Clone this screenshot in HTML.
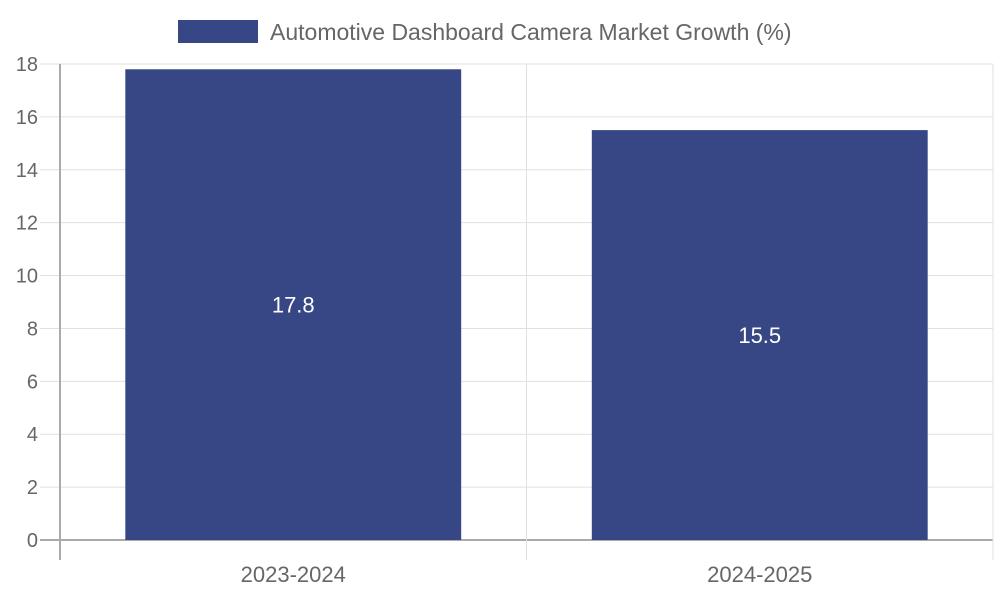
<!DOCTYPE html>
<html><head><meta charset="utf-8"><style>
body{margin:0;background:#fff}
svg text{font-family:"Liberation Sans",sans-serif}
</style></head><body>
<svg id="chart" width="1000" height="600" xmlns="http://www.w3.org/2000/svg">
<rect x="178" y="20" width="80" height="23" fill="#374785"/>
<text x="270" y="40" font-size="23" fill="#666">Automotive Dashboard Camera Market Growth (%)</text>
<g id="grid"></g><g id="bars"></g><g id="labels"></g>
</svg>
<script>
const categories=["2023-2024","2024-2025"];
const values=[17.8,15.5];
const yTicks=[0,2,4,6,8,10,12,14,16,18];
const ns="http://www.w3.org/2000/svg";
const X0=60,X1=993,Y0=540,Y1=64,YMAX=18;
const y=v=>Y0-(v/YMAX)*(Y0-Y1);
const bw=(X1-X0)/categories.length;
const g=document.getElementById('grid'),b=document.getElementById('bars'),l=document.getElementById('labels');
function mk(p,tag,a){const e=document.createElementNS(ns,tag);for(const k in a)e.setAttribute(k,a[k]);p.appendChild(e);return e;}
yTicks.forEach(t=>{
 const ln=mk(g,'line',{x1:40,x2:X1,y1:y(t),y2:y(t),stroke:t===0?'#aaa':'#e0e0e0','stroke-width':t===0?2:1});
 
 
 const tx=mk(g,'text',{x:38,y:y(t)+7,'text-anchor':'end','font-size':20,fill:'#666'});
 tx.textContent=t;
 
 
});
for(let i=0;i<=categories.length;i++){
 const x=X0+i*bw;
 const ln=mk(g,'line',{x1:x,x2:x,y1:Y1,y2:560,stroke:i===0?'#aaa':'#e0e0e0','stroke-width':i===0?2:1});
 
 
}
categories.forEach((c,i)=>{
 const cx=X0+bw*(i+0.5),w=bw*0.72;
 const r=mk(b,'rect',{x:cx-w/2,y:y(values[i]),width:w,height:Y0-y(values[i]),fill:'#374785'});
 
 
 const v=mk(l,'text',{x:cx,y:(y(values[i])+Y0)/2+8,'text-anchor':'middle','font-size':22,fill:'#fff'});
 v.textContent=values[i];
 
 
 const t=mk(l,'text',{x:cx,y:582,'text-anchor':'middle','font-size':22,fill:'#666'});
 t.textContent=c;
 
 
});
</script>
</body></html>
